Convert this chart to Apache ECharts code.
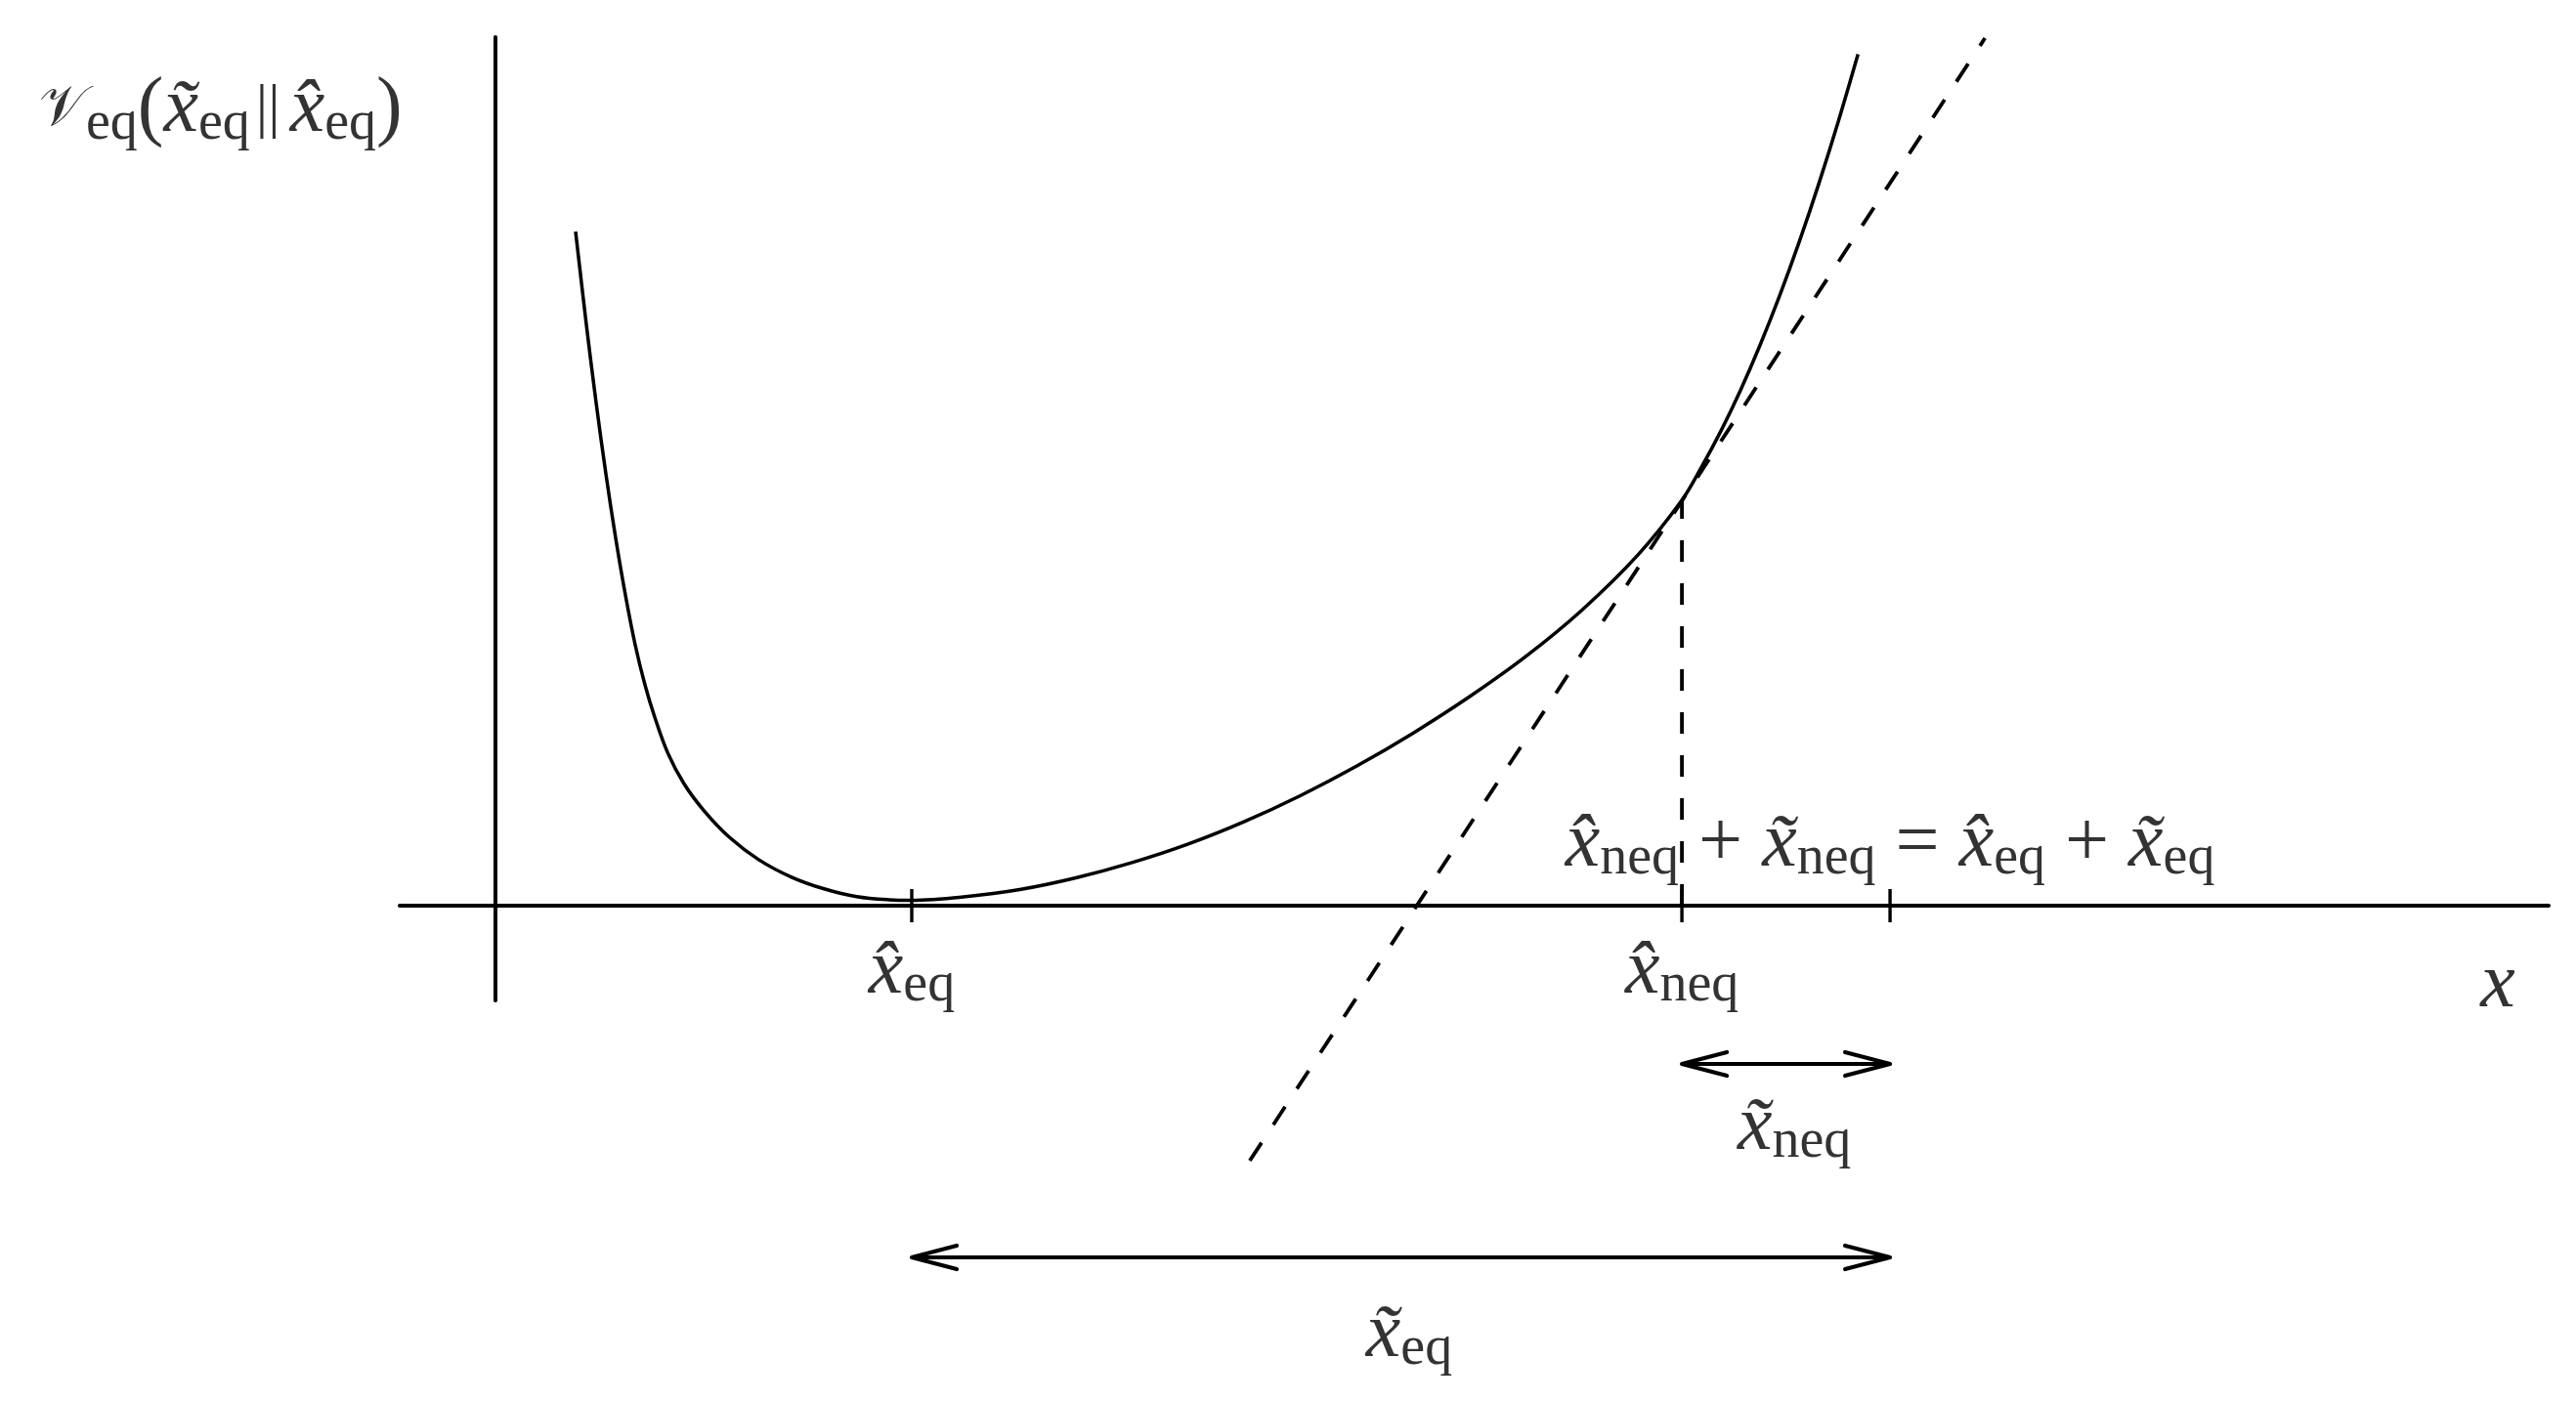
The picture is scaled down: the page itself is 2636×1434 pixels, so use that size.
<!DOCTYPE html>
<html><head><meta charset="utf-8">
<script src="https://cdn.jsdelivr.net/npm/echarts@6/dist/echarts.min.js"></script>
<style>html,body{margin:0;padding:0;background:#fff}#c{width:2636px;height:1434px}</style>
</head><body><div id="c"></div>
<script>
// ---------- data ----------
const curveX = [0.1925, 0.2183, 0.2418, 0.2653, 0.2887, 0.3122, 0.3357, 0.3592, 0.3826, 0.4139, 0.4531, 0.5000, 0.5627, 0.6331, 0.7113, 0.7894, 0.8678, 0.9460, 1.0000,
  1.1244, 1.2594, 1.3944, 1.5293, 1.6643, 1.7993, 1.9343, 2.0692, 2.2042, 2.3392, 2.4742, 2.6092, 2.7441, 2.8500,
  2.897, 2.944, 2.991, 3.038, 3.085, 3.132, 3.179, 3.226, 3.273];
const curveY = [6.90, 5.95, 5.15, 4.42, 3.765, 3.18, 2.67, 2.26, 1.93, 1.564, 1.247, 0.977, 0.697, 0.469, 0.292, 0.172, 0.092, 0.060, 0.055,
  0.090, 0.165, 0.285, 0.441, 0.631, 0.861, 1.128, 1.430, 1.766, 2.137, 2.548, 3.023, 3.589, 4.150,
  4.488, 4.861, 5.278, 5.740, 6.246, 6.796, 7.391, 8.030, 8.714];
const xHatEq = 1.0;
const xHatNeq = 2.85;
const xTildeNeq = 0.5;
const xTildeEq = 2.35;
const vAtHatNeq = 4.15;
const tangentX = [1.812, 3.578];
const tangentY = [-2.61, 8.88];
const xRange = [-0.23, 4.932];
const yRange = [-0.97, 8.89];
const arrowRowY = [-1.62, -3.60];
const tickValues = [xHatEq, xHatNeq, xHatNeq + xTildeNeq];

// ---------- text ----------
const HAT = 'x\u0302', TIL = 'x\u0303';
const yAxisTitle = '{v|\uD835\uDCB1}{s|eq}{o|(}{x|' + TIL + '}{s|eq}{b|||}{x|' + HAT + '}{s|eq}{o|)}';
const xAxisTitle = '{x|x}';
const tickLabelHatEq = '{x|' + HAT + '}{s|eq}';
const tickLabelHatNeq = '{x|' + HAT + '}{s|neq}';
const sumLabel = '{x|' + HAT + '}{s|neq}{o| + }{x|' + TIL + '}{s|neq}{o| = }{x|' + HAT + '}{s|eq}{o| + }{x|' + TIL + '}{s|eq}';
const tildeNeqLabel = '{x|' + TIL + '}{s|neq}';
const tildeEqLabel = '{x|' + TIL + '}{s|eq}';

const chart = echarts.init(document.getElementById('c'));
const curveData = curveX.map((x, i) => [x, curveY[i]]);
const tangentData = tangentX.map((x, i) => [x, tangentY[i]]);
const verticalData = [[xHatNeq, 0], [xHatNeq, vAtHatNeq]];
const arrowData = [
  [xHatNeq, xHatNeq + xTildeNeq, arrowRowY[0]],
  [xHatEq, xHatEq + xTildeEq, arrowRowY[1]]
];

const serif = "'Liberation Serif','DejaVu Serif',serif";
const rich = {
  x: {fontFamily: serif, fontStyle: 'italic', fontSize: 80, color: '#000'},
  v: {fontFamily: "'DejaVu Sans','Noto Sans',serif", fontStyle: 'normal', fontSize: 58, color: '#000'},
  s: {fontFamily: serif, fontSize: 56, color: '#000', padding: [28, 0, 0, 0]},
  o: {fontFamily: serif, fontSize: 80, color: '#000'},
  b: {fontFamily: serif, fontSize: 62, color: '#000', padding: [0, 10, 0, 6]}
};

const labelItems = [
  {value: [-0.66, 8.14], text: yAxisTitle},
  {value: [4.81, -0.82], text: xAxisTitle},
  {value: [xHatEq, -0.68], text: tickLabelHatEq},
  {value: [xHatNeq, -0.68], text: tickLabelHatNeq},
  {value: [xHatNeq + xTildeNeq, 0.62], text: sumLabel},
  {value: [xHatNeq + xTildeNeq / 2 + 0.02, -2.28], text: tildeNeqLabel},
  {value: [xHatEq + xTildeEq / 2 + 0.02, -4.40], text: tildeEqLabel}
];

const black = '#000';
chart.setOption({
  animation: false,
  backgroundColor: '#fff',
  grid: {left: 409, right: 28, top: 38, bottom: 410, containLabel: false},
  xAxis: {
    type: 'value', min: xRange[0], max: xRange[1],
    axisLine: {show: true, onZero: true, lineStyle: {color: black, width: 4}},
    axisTick: {show: false}, axisLabel: {show: false}, splitLine: {show: false}
  },
  yAxis: {
    type: 'value', min: yRange[0], max: yRange[1],
    axisLine: {show: true, onZero: true, lineStyle: {color: black, width: 4}},
    axisTick: {show: false}, axisLabel: {show: false}, splitLine: {show: false}
  },
  series: [
    {
      type: 'line', name: 'V', data: curveData, smooth: 0.35, showSymbol: false, clip: false,
      lineStyle: {color: black, width: 3.5}
    },
    {
      type: 'line', name: 'tangent', data: tangentData, showSymbol: false, clip: false,
      lineStyle: {color: black, width: 3.8, type: [22, 22]}
    },
    {
      type: 'line', name: 'drop', data: verticalData, showSymbol: false, clip: false,
      lineStyle: {color: black, width: 3.8, type: [22, 22]}
    },
    {
      type: 'custom', name: 'ticks', clip: false,
      data: tickValues.map(v => [v, 0]),
      encode: {x: 0, y: 1},
      renderItem: function (params, api) {
        const p = api.coord([api.value(0), api.value(1)]);
        return {type: 'line', shape: {x1: p[0], y1: p[1] - 17, x2: p[0], y2: p[1] + 17},
          style: {stroke: black, lineWidth: 3.4}};
      }
    },
    {
      type: 'custom', name: 'arrows', clip: false,
      data: arrowData,
      encode: {x: [0, 1], y: 2},
      renderItem: function (params, api) {
        const a = api.coord([api.value(0), api.value(2)]);
        const b = api.coord([api.value(1), api.value(2)]);
        const L = 46, H = 12;
        const st = {stroke: black, lineWidth: 4.2, fill: null, lineJoin: 'round', lineCap: 'round'};
        return {type: 'group', children: [
          {type: 'line', shape: {x1: a[0] + 2, y1: a[1], x2: b[0] - 2, y2: b[1]}, style: st},
          {type: 'polyline', shape: {points: [[a[0] + L, a[1] - H], [a[0], a[1]], [a[0] + L, a[1] + H]]}, style: st},
          {type: 'polyline', shape: {points: [[b[0] - L, b[1] - H], [b[0], b[1]], [b[0] - L, b[1] + H]]}, style: st}
        ]};
      }
    },
    {
      type: 'scatter', name: 'labels', clip: false, symbolSize: 0, silent: true,
      itemStyle: {color: 'rgba(0,0,0,0)'},
      label: {show: true, position: 'inside', rich: rich},
      data: labelItems.map(it => ({value: it.value, label: {formatter: it.text}}))
    }
  ]
});
</script></body></html>
